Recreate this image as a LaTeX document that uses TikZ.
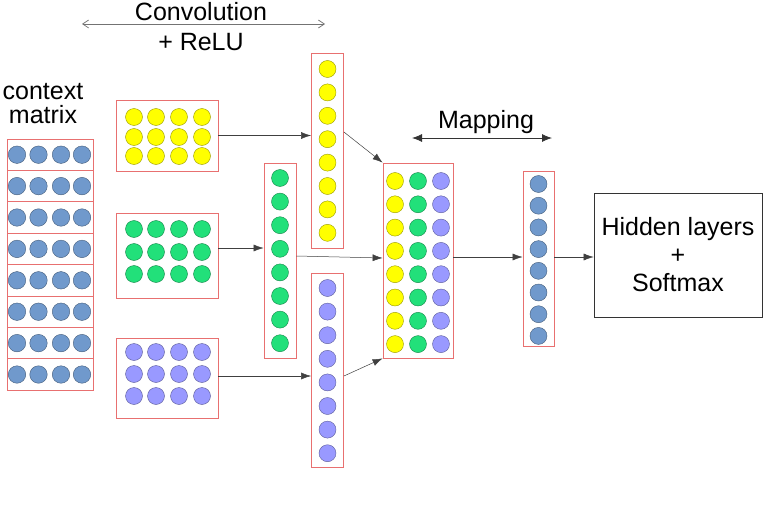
\documentclass[tikz,border=0pt]{standalone}
\usepackage{fontspec}
\setmainfont{Liberation Sans}
\usetikzlibrary{arrows.meta}
\definecolor{cb}{HTML}{7099CC}
\definecolor{cg}{HTML}{22E07A}
\definecolor{cy}{HTML}{FFFF00}
\definecolor{cp}{HTML}{9999FF}
\definecolor{rb}{HTML}{E87070}
\begin{document}
\begin{tikzpicture}[x=1pt,y=-1pt,
  box/.style={draw=rb,line width=0.8pt,inner sep=0pt},
  dot/.style={circle,draw=#1!60!black,line width=0.4pt,fill=#1,minimum size=17pt,inner sep=0pt},
  arr/.style={-{Latex[length=10pt,width=7pt]},line width=0.5pt,draw=black!75},
  lbl/.style={font=\fontsize{25}{28}\selectfont,align=center}]
\useasboundingbox (0,0) rectangle (771,519);
% context matrix
\foreach \r in {0,...,7}{
  \node[box,minimum width=86pt,minimum height=31.4pt] (cm\r) at (50,{154.7+31.4*\r}) {};
  \foreach \c/\xx in {0/17,1/38.5,2/61,3/82}
    \node[dot=cb,minimum size=17.5pt] (cmd\r\c) at (\xx,{154.7+31.4*\r}) {};
}
\node[lbl] (ctx) at (43,104) {context\\[-4pt]matrix};
% matrices
\node[box,minimum width=102pt,minimum height=71pt] (ym) at (167,135.5) {};
\node[box,minimum width=102pt,minimum height=85pt] (gm) at (167,255.5) {};
\node[box,minimum width=102pt,minimum height=80pt] (bm) at (167,378) {};
\foreach \c/\xx in {0/134,1/156,2/179,3/202}{
  \foreach \r/\yy in {0/117,1/137,2/156} \node[dot=cy] (yd\r\c) at (\xx,\yy) {};
  \foreach \r/\yy in {0/229,1/252,2/274} \node[dot=cg] (gd\r\c) at (\xx,\yy) {};
  \foreach \r/\yy in {0/352,1/374,2/396} \node[dot=cp] (bd\r\c) at (\xx,\yy) {};
}
% columns
\node[box,minimum width=32pt,minimum height=195pt] (yc) at (327.5,150.5) {};
\node[box,minimum width=32pt,minimum height=195pt] (gc) at (280,260.5) {};
\node[box,minimum width=32pt,minimum height=194pt] (bc) at (327.5,370) {};
\foreach \i in {0,...,7}{
  \node[dot=cy] (ycd\i) at (327.5,{69+23.4*\i}) {};
  \node[dot=cg] (gcd\i) at (280,{178+23.6*\i}) {};
  \node[dot=cp] (bcd\i) at (327.5,{288+23.6*\i}) {};
}
% combined
\node[box,minimum width=70pt,minimum height=195pt] (cc) at (418,260.5) {};
\foreach \i in {0,...,7}{
  \node[dot=cy] (ccy\i) at (395,{181+23.3*\i}) {};
  \node[dot=cg] (ccg\i) at (418,{181+23.3*\i}) {};
  \node[dot=cp] (ccp\i) at (441,{181+23.3*\i}) {};
}
% final
\node[box,minimum width=31pt,minimum height=175pt] (fc) at (538.5,258.5) {};
\foreach \i in {0,...,7}
  \node[dot=cb] (fcd\i) at (538.5,{184+21.7*\i}) {};
% hidden
\node[draw=black!80,line width=0.6pt,minimum width=168pt,minimum height=124pt,lbl,inner sep=0pt] (hid) at (678,255) {Hidden layers\\+\\Softmax};
% arrows
\draw[arr] (ym.east) -- (ym.east -| yc.west);
\draw[arr] (218,248) -- (gc.west |- 0,248);
\draw[arr] (bm.east) ++(0,-2) -- (bc.west |- 0,376);
\draw[arr] (yc.east |- 0,132) -- (cc.north west);
\draw[arr] (gc.east |- 0,256) -- (cc.west |- 0,258);
\draw[arr] (bc.east |- 0,376) -- (cc.south west);
\draw[arr] (cc.east |- 0,257) -- (fc.west |- 0,257);
\draw[arr] (fc.east |- 0,257) -- (hid.west |- 0,257);
% top labels
\coordinate (cl) at (82,24); \coordinate (cr) at (325,24);
\draw[{Straight Barb[length=6pt,width=8pt]}-{Straight Barb[length=6pt,width=8pt]},draw=black!55,line width=0.7pt] (cl) -- (cr);
\node[lbl] (conv) at (201,12) {Convolution};
\node[lbl] (relu) at (201,42) {+ ReLU};
\coordinate (ml) at (412,138); \coordinate (mr) at (552,138);
\draw[{Latex[length=10pt,width=8pt]}-{Latex[length=10pt,width=8pt]},draw=black!80,line width=0.8pt] (ml) -- (mr);
\node[lbl] (map) at (486,122) {Mapping};
\end{tikzpicture}
\end{document}
